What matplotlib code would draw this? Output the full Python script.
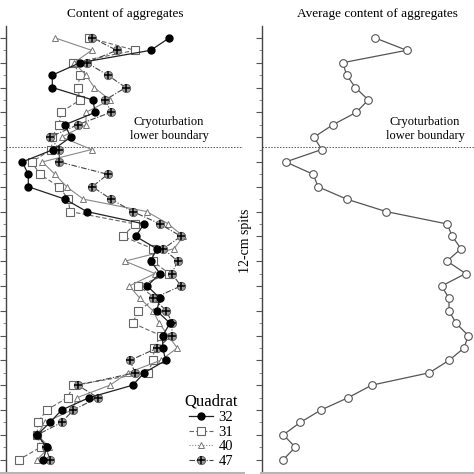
import matplotlib
matplotlib.use("Agg")
import matplotlib.pyplot as plt
from matplotlib.lines import Line2D
import numpy as np

plt.rcParams['font.family'] = ['Liberation Serif', 'DejaVu Serif']

spits = list(range(1, 36))
q32 = [163.3, 144.7, 74, 46.3, 46.3, 86.7, 89.3, 59, 64.7, 47.3, 16.3, 22.3, 22.3, 59, 80.7,
       138, 129.7, 150.7, 144.7, 154, 141.3, 154, 150.7, 164, 156.7, 156.7, 159.7, 138.3, 126.7, 83.3,
       55.7, 44, 31.3, 40.7, 37.3]
q31 = [83.3, 129, 67.3, 74, 71.7, 74, 55, 53, 46, 45.5, 25.7, 34, 53, 62.3, 64,
       129, 116.7, 147, 147, 163, 132.3, 150, 132.3, 126.7, 155, 148, 147.3, 141.7, 67.3, 61.7,
       40.7, 31.7, 31.3, 34.7, 13]
q40 = [49, 85.7, 68, 80, 88.3, 104, 80, 80, 55.7, 85.7, 36.3, 49, 60.7, 77.3, 140.7,
       162.3, 177.3, 168, 119, 149, 123.3, 134, 147, 153.3, 162, 171.3, 154.6, 122, 104, 71.3,
       66, 39, 31.3, 43.3, 31.3]
q47 = [86.3, 110.7, 80.7, 101.7, 119.7, 99.3, 105, 71.7, 44, 53.3, 53.3, 101.7, 86.3, 105, 126.7,
       154, 175, 157.3, 171.7, 165.7, 175, 147.3, 160.3, 166.3, 165.7, 151.3, 124, 129, 71.7, 91.7,
       67.3, 55.7, 31.3, 39.6, 44]
average = [113, 144.7, 80.7, 84.7, 93.3, 106.3, 94.3, 71, 52, 59.7, 23.7, 51.3, 56, 84.7, 124,
           185, 190.3, 199, 185, 203.7, 179.7, 187, 187, 194, 206.3, 202, 187, 167.3, 109.7, 86.3,
           59, 38.3, 21.3, 33.3, 21.3]
quadrat_labels = ['32', '31', '40', '47']
boundary_spit = 9.8

W = H = 474
fig = plt.figure(figsize=(4.74, 4.74), dpi=100)

def fx(x):
    return x / W

def fy(y):
    return 1 - y / H

top, bot = 25.5, 472
ax1 = fig.add_axes([fx(6), fy(bot), fx(243 - 6), (bot - top) / H])
ax2 = fig.add_axes([fx(262), fy(bot), fx(474 - 262), (bot - top) / H])

for ax in (ax1, ax2):
    ax.set_ylim(36, 0)
    ax.set_yticks(np.arange(1, 36, 2))
    ax.set_yticks(np.arange(2, 36, 2), minor=True)
    ax.tick_params(axis='y', which='major', direction='out', length=4, width=0.8,
                   color='#555555', labelleft=False)
    ax.tick_params(axis='y', which='minor', direction='out', length=2, width=0.6,
                   color='#777777')
    ax.set_xticks([])
    for s in ('top', 'right', 'bottom'):
        ax.spines[s].set_visible(False)
    ax.spines['left'].set_color('#444444')
    ax.spines['left'].set_linewidth(1.0)
    ax.patch.set_alpha(0)
    ax.axhline(boundary_spit, color='#555555', lw=0.7, ls=(0, (1.5, 1.5)))

ax1.set_xlim(0, 237)
ax2.set_xlim(0, 212)

# series
l32, = ax1.plot(q32, spits, color='#222222', lw=0.9, marker='o', ms=5,
                mfc='black', mec='black', zorder=4)
l31, = ax1.plot(q31, spits, color='#666666', lw=0.8, ls=(0, (4, 2)), marker='s', ms=5.5,
                mfc='white', mec='#666666', mew=0.8, zorder=3)
l40, = ax1.plot(q40, spits, color='#888888', lw=0.8, ls='-', marker='^', ms=4.2,
                mfc='white', mec='#777777', mew=0.7, zorder=3)
l47, = ax1.plot(q47, spits, color='#444444', lw=0.8, ls=(0, (5, 1.5, 1, 1.5)), marker='o', ms=6,
                mfc='#999999', mec='#555555', mew=0.6, zorder=3)
p47, = ax1.plot(q47, spits, ls='none', marker='+', ms=6, mec='black', mew=1.1, zorder=3.5)

ax2.plot(average, spits, color='#555555', lw=0.9, marker='o', ms=5.5,
         mfc='white', mec='#555555', mew=0.8)

# legend
l40_leg = Line2D([], [], color='#888888', lw=0.8, ls=(0, (1, 1.5)), marker='^', ms=4.2,
                 mfc='white', mec='#777777', mew=0.7)
leg = ax1.legend([l32, l31, l40_leg, (l47, p47)], quadrat_labels, title='Quadrat',
                 loc='lower right', bbox_to_anchor=(fx(238), fy(468)),
                 bbox_transform=fig.transFigure, frameon=False, fontsize=10.5,
                 title_fontsize=12, handlelength=1.6, handletextpad=0.4,
                 labelspacing=0.1, borderpad=0.0, borderaxespad=0.0)

# text
fig.text(fx(125), fy(14), 'Content of aggregates', ha='center', va='center', fontsize=9.5)
fig.text(fx(377), fy(14), 'Average content of aggregates', ha='center', va='center', fontsize=9.5)
fig.text(fx(169), fy(129), 'Cryoturbation\nlower boundary', ha='center', va='center',
         fontsize=9, linespacing=1.2)
fig.text(fx(425), fy(129), 'Cryoturbation\nlower boundary', ha='center', va='center',
         fontsize=9, linespacing=1.2)
fig.text(fx(245), fy(241), '12-cm spits', ha='center', va='center', rotation=90, fontsize=10)

# bottom grey rule
fig.add_artist(Line2D([fx(0), fx(243)], [fy(472.5), fy(472.5)], color='#b5b5b5', lw=2.2))
fig.add_artist(Line2D([fx(261), fx(474)], [fy(472.5), fy(472.5)], color='#b5b5b5', lw=2.2))

fig.savefig('out.png', dpi=100)
